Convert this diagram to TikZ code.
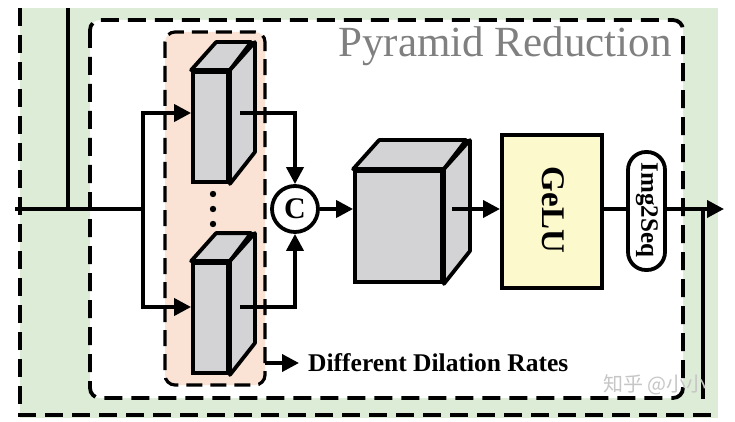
\documentclass[tikz,border=0pt]{standalone}
\usepackage{fontspec}
\setmainfont{Liberation Serif}
\newfontfamily\cjk{Noto Sans CJK SC}
\usetikzlibrary{arrows.meta,calc}
\definecolor{bggreen}{RGB}{221,236,215}
\definecolor{peach}{RGB}{250,227,212}
\definecolor{cubegray}{RGB}{211,211,213}
\definecolor{paleyellow}{RGB}{252,249,204}
\definecolor{titlegray}{RGB}{128,128,128}
\tikzset{
  conn/.style={line width=3.8pt},
  arr/.style={line width=3.8pt,-{Triangle[length=17pt,width=17pt]}},
  dashline/.style={line width=3.8pt,dash pattern=on 18pt off 9pt},
  cubeface/.style={draw,line width=3.8pt,fill=cubegray,line join=round},
  cubefront/.style={draw,line width=3.8pt,fill=cubegray,inner sep=0pt,minimum width=35pt,minimum height=110pt},
  bigfront/.style={draw,line width=3.8pt,fill=cubegray,inner sep=0pt,minimum width=87pt,minimum height=111pt},
}
\begin{document}
\begin{tikzpicture}[x=1pt,y=-1pt]
\useasboundingbox (0,0) rectangle (735,422);
% green background
\fill[bggreen] (20,8) rectangle (718,418);
\draw[dashline] (20,8) -- (20,415) -- (718,415);
% inner pyramid reduction box
\draw[dashline,fill=white,rounded corners=10pt] (90,20) rectangle (683,398);
\node[font=\fontsize{43}{43}\selectfont,text=titlegray,inner sep=0pt] (title) at (505,46) {Pyramid Reduction};
% orange group
\draw[line width=3.2pt,dash pattern=on 16pt off 8pt,fill=peach,rounded corners=10pt] (165,32) rectangle (265,385);
% input lines
\coordinate (in) at (15,209);
\coordinate (topv) at (68,8);
\coordinate (jv) at (68,209);
\coordinate (split) at (143,209);
\draw[conn] (topv) -- (jv);
\draw[conn] (in) -- (split);
% upper cuboid
\node[cubefront] (up) at (210.5,127) {};
\draw[cubeface] (up.north west) -- ++(25,-28) -- ++(35,0) -- (up.north east) -- cycle;
\draw[cubeface] (up.north east) -- ++(25,-28) -- ++(0,110) -- (up.south east) -- cycle;
% lower cuboid
\node[cubefront] (lo) at (210.5,318) {};
\draw[cubeface] (lo.north west) -- ++(25,-28) -- ++(35,0) -- (lo.north east) -- cycle;
\draw[cubeface] (lo.north east) -- ++(25,-28) -- ++(0,110) -- (lo.south east) -- cycle;
% dots
\foreach \yy in {194,209,224} \fill (213,\yy) circle (3.2pt);
% branches into cuboids
\draw[arr] (split) |- (up.west |- 0,113);
\draw[arr] (split) |- (lo.west |- 0,307);
% concat circle
\node[draw,circle,line width=3.8pt,fill=white,minimum size=46pt,inner sep=0pt,font=\bfseries\fontsize{30}{30}\selectfont] (cat) at (295,209) {C};
\coordinate (uo) at (240,113);
\coordinate (lout) at (240,307);
\draw[arr] (uo) -| (cat.north);
\draw[arr] (lout) -| (cat.south);
% big cube
\node[bigfront] (big) at (398.5,226.5) {};
\draw[cubeface] (big.north west) -- ++(26,-29) -- ++(87,0) -- (big.north east) -- cycle;
\draw[cubeface] (big.north east) -- ++(26,-29) -- ++(0,111) -- (big.south east) -- cycle;
\draw[arr] (cat.east) -- (big.west |- cat.east);
% GeLU
\node[draw,line width=4pt,fill=paleyellow,minimum width=100pt,minimum height=153pt,inner sep=0pt] (gelu) at (552,211.5) {};
\node[rotate=-90,font=\bfseries\fontsize{33}{33}\selectfont,inner sep=0pt] (gelutxt) at (553,210) {GeLU};
\coordinate (bigout) at (452,209);
\draw[arr] (bigout) -- (gelu.west |- bigout);
% Img2Seq pill
\node[draw,line width=3.8pt,fill=white,rounded corners=18pt,minimum width=37pt,minimum height=118pt,inner sep=0pt] (pill) at (646.5,211) {};
\node[rotate=-90,font=\bfseries\fontsize{25}{25}\selectfont,inner sep=0pt] (pilltxt) at (647,210) {Img2Seq};
\draw[conn] (gelu.east |- 0,209) -- (pill.west |- 0,209);
\coordinate (outend) at (724,209);
\draw[arr] (pill.east |- 0,209) -- (outend);
\coordinate (rtop) at (703,209);
\coordinate (rbot) at (703,399);
\draw[conn] (rtop) -- (rbot);
% different dilation rates
\coordinate (ddstart) at (265,363);
\node[anchor=west,font=\bfseries\fontsize{25.5}{25.5}\selectfont,inner sep=0pt] (dd) at (308,363) {Different Dilation Rates};
\draw[arr] (ddstart) -- ([xshift=-9pt]dd.west);
% watermark
\node[anchor=west,font=\cjk\fontsize{20}{20}\selectfont,text=gray!45,inner sep=0pt] (wm) at (603,385) {知乎 @小小};
\end{tikzpicture}
\end{document}
